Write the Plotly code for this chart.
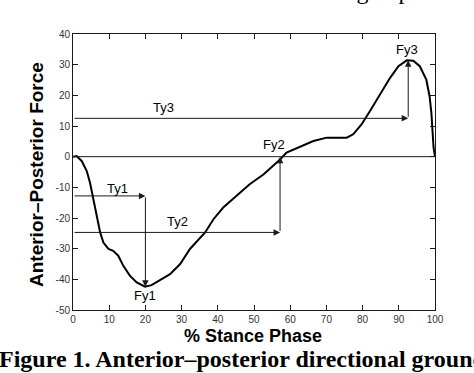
import plotly.graph_objects as go

# Curve: % stance phase vs anterior-posterior force
stance_pct = [0, 1.0, 2.4, 3.8, 4.7, 5.6, 6.5, 7.5, 8.4, 9.8, 11.1, 12.5, 13.9, 15.7, 17.6,
              19.9, 21.7, 24.0, 26.8, 29.6, 32.3, 36.5, 38.8, 41.5, 45.2, 48.8, 52.6, 55.3,
              57.2, 59.0, 62.2, 66.4, 70.1, 75.6, 77.4, 79.7, 82.0, 84.8, 87.6, 89.9, 92.2,
              94.0, 95.8, 97.6, 98.5, 99.0, 99.4, 99.6, 100]
ap_force = [0, 0.2, -1.4, -4.7, -8.5, -13.9, -19.3, -24.7, -28.0, -30.1, -30.7, -32.3, -35.6,
            -38.8, -41.0, -42.4, -41.9, -40.4, -38.3, -35.0, -30.1, -24.7, -20.4, -16.6, -12.8,
            -9.0, -5.8, -3.1, -0.9, 1.3, 2.9, 5.1, 6.2, 6.2, 7.3, 10.5, 14.8, 20.3, 25.7, 29.5,
            31.4, 31.3, 29.5, 25.1, 19.7, 14.3, 7.8, 3.0, 0]

# Characteristic points: time (Ty) and force (Fy) markers
peak_names = ["1", "2", "3"]
ty_time = [20, 57.2, 92.6]
fy_force = [-42.4, 0, 31.4]
ty_level = [-12.8, -24.7, 12.5]

x_ticks = [0, 10, 20, 30, 40, 50, 60, 70, 80, 90, 100]
y_ticks = [-50, -40, -30, -20, -10, 0, 10, 20, 30, 40]

LINE = "#1a1a1a"

fig = go.Figure()
fig.add_trace(go.Scatter(x=stance_pct, y=ap_force, mode="lines",
                         line=dict(color="black", width=2), showlegend=False,
                         hoverinfo="skip"))

# zero line
fig.add_shape(type="line", x0=0, x1=100, y0=0, y1=0, xref="x", yref="y",
              line=dict(color=LINE, width=1))

annotations = []
ty_label_pos = [(12.3, -10.3), (28.9, -21.3), (24.9, 16.0)]
fy_label_pos = [(19.9, -45.4), (55.5, 4.0), (92.4, 34.9)]
for i, name in enumerate(peak_names):
    # horizontal Ty arrow
    annotations.append(dict(x=ty_time[i], y=ty_level[i], ax=0, ay=ty_level[i],
                            xref="x", yref="y", axref="x", ayref="y", text="",
                            showarrow=True, arrowhead=2, arrowsize=1.3, arrowwidth=1,
                            arrowcolor=LINE, standoff=0))
    # vertical Fy arrow
    annotations.append(dict(x=ty_time[i], y=fy_force[i], ax=ty_time[i], ay=ty_level[i],
                            xref="x", yref="y", axref="x", ayref="y", text="",
                            showarrow=True, arrowhead=2, arrowsize=1.3, arrowwidth=1,
                            arrowcolor=LINE, standoff=0))
    annotations.append(dict(x=ty_label_pos[i][0], y=ty_label_pos[i][1], xref="x", yref="y",
                            xanchor="center", yanchor="middle",
                            text="Ty" + name, showarrow=False,
                            font=dict(family="Arial, Liberation Sans", size=13, color="black")))
    annotations.append(dict(x=fy_label_pos[i][0], y=fy_label_pos[i][1], xref="x", yref="y",
                            xanchor="center", yanchor="middle",
                            text="Fy" + name, showarrow=False,
                            font=dict(family="Arial, Liberation Sans", size=13, color="black")))

# axis titles
annotations.append(dict(x=(252.5 - 73) / 362, y=1 - (336 - 34) / 276, xref="paper", yref="paper",
                        xanchor="center", yanchor="middle",
                        text="<b>% Stance Phase</b>", showarrow=False,
                        font=dict(family="Arial, Liberation Sans", size=18, color="black")))
annotations.append(dict(x=(36 - 73) / 362, y=1 - (175 - 34) / 276, xref="paper", yref="paper",
                        xanchor="center", yanchor="middle",
                        text="<b>Anterior–Posterior Force</b>", showarrow=False, textangle=-90,
                        font=dict(family="Arial, Liberation Sans", size=19, color="black")))
# caption
annotations.append(dict(x=(-3 - 73) / 362, y=1 - (359 - 34) / 276, xref="paper", yref="paper",
                        xanchor="left", yanchor="middle",
                        text="<b>Figure 1. Anterior–posterior directional ground reaction force</b>",
                        showarrow=False,
                        font=dict(family="Times New Roman, Liberation Serif", size=24, color="black")))
# cut-off line of body text above
annotations.append(dict(x=(-30 - 73) / 362, y=1 - (-9 - 34) / 276, xref="paper", yref="paper",
                        xanchor="left", yanchor="middle",
                        text="extracted from AP/Fs were defined as a gait pattern",
                        showarrow=False,
                        font=dict(family="Times New Roman, Liberation Serif", size=24, color="black")))

fig.update_layout(
    width=474, height=373,
    margin=dict(l=73, r=39, t=34, b=63),
    paper_bgcolor="white", plot_bgcolor="white",
    annotations=annotations,
    showlegend=False,
)
axis_common = dict(showline=True, linecolor=LINE, linewidth=1, mirror="ticks",
                   ticks="inside", ticklen=5, tickcolor=LINE, showgrid=False, zeroline=False,
                   tickfont=dict(family="Arial, Liberation Sans", size=10, color="#333333"))
fig.update_xaxes(range=[0, 100], tickvals=x_ticks, ticktext=[str(v) for v in x_ticks],
                 **axis_common)
fig.update_yaxes(range=[-50, 40], tickvals=y_ticks, ticktext=[str(v) for v in y_ticks],
                 **axis_common)

fig.write_html("out.html", config={"displayModeBar": False},
               post_script="document.body.style.margin='0';")
